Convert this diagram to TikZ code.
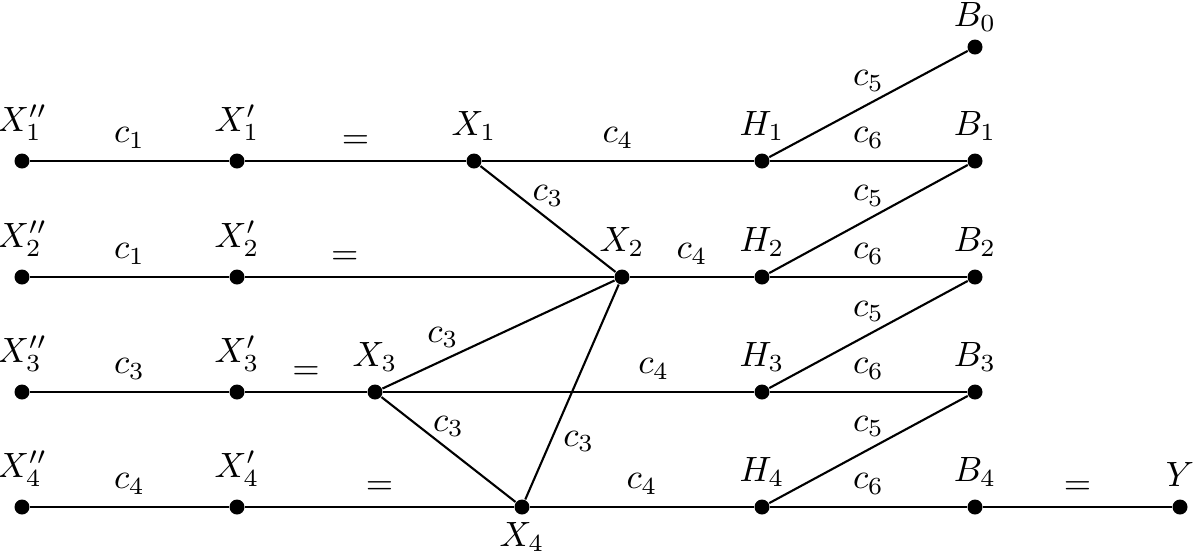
\documentclass[tikz,border=0pt]{standalone}
\usetikzlibrary{positioning}
\tikzstyle{vertex}=[circle, fill=black, inner sep=0pt, minimum size=0.15cm]
\tikzstyle{line}=[-, line width=0.6pt]

\begin{document}
\begin{tikzpicture}[on grid, label distance=0pt]
    \useasboundingbox (0,0) rectangle (12,-5.56);

    % first row
    \node (X1pp) [vertex, label=above:$X''_1$] at (0.22,-1.61) {};
    \node (X1p) [vertex, label=above:$X'_1$, right=2.15cm of X1pp] {};
    \node (X1) [vertex, label=above:$X_1$, right=2.37cm of X1p] {};
    \node (H1) [vertex, label=above:$H_1$, right=2.88cm of X1] {};
    \node (B1) [vertex, label=above:$B_1$, right=2.13cm of H1] {};
    \node (B0) [vertex, label={[label distance=-1.5pt]above:$B_0$}, above=1.14cm of B1] {};

    % second row
    \node (X2pp) [vertex, label=above:$X''_2$, below=1.16cm of X1pp] {};
    \node (X2p) [vertex, label=above:$X'_2$, below=1.16cm of X1p] {};
    \node (X2) [vertex, label=above:$X_2$, right=3.85cm of X2p] {};
    \node (H2) [vertex, label=above:$H_2$, below=1.16cm of H1] {};
    \node (B2) [vertex, label=above:$B_2$, below=1.16cm of B1] {};

    % third row
    \node (X3pp) [vertex, label=above:$X''_3$, below=1.15cm of X2pp] {};
    \node (X3p) [vertex, label=above:$X'_3$, below=1.15cm of X2p] {};
    \node (X3) [vertex, label=above:$X_3$, right=1.38cm of X3p] {};
    \node (H3) [vertex, label=above:$H_3$, below=1.15cm of H2] {};
    \node (B3) [vertex, label=above:$B_3$, below=1.15cm of B2] {};

    % fourth row
    \node (X4pp) [vertex, label=above:$X''_4$, below=1.15cm of X3pp] {};
    \node (X4p) [vertex, label=above:$X'_4$, below=1.15cm of X3p] {};
    \node (X4) [vertex, label={[label distance=-1.5pt]below:$X_4$}, right=2.85cm of X4p] {};
    \node (H4) [vertex, label=above:$H_4$, below=1.15cm of H3] {};
    \node (B4) [vertex, label=above:$B_4$, below=1.15cm of B3] {};
    \node (Y) [vertex, label=above:$Y$, right=2.05cm of B4] {};

    \draw[line] (X1pp) -- node[above] {$c_1$} (X1p);
    \draw[line] (X1p) -- node[above] {$=$} (X1);
    \draw[line] (X1) -- node[above] {$c_4$} (H1);
    \draw[line] (H1) -- node[above] {$c_6$} (B1);
    \draw[line] (H1) -- node[above] {$c_5$} (B0);
    \draw[line] (X1) -- node[above] {$c_3$} (X2);

    \draw[line] (X2pp) -- node[above] {$c_1$} (X2p);
    \draw[line] (X2p) -- node[above, pos=0.27] {$=$} (X2);
    \draw[line] (X2) -- node[above] {$c_4$} (H2);
    \draw[line] (H2) -- node[above] {$c_6$} (B2);
    \draw[line] (H2) -- node[above] {$c_5$} (B1);

    \draw[line] (X3pp) -- node[above] {$c_3$} (X3p);
    \draw[line] (X3p) -- node[above] {$=$} (X3);
    \draw[line] (X3) -- node[above, pos=0.73] {$c_4$} (H3);
    \draw[line] (H3) -- node[above] {$c_6$} (B3);
    \draw[line] (H3) -- node[above] {$c_5$} (B2);
    \draw[line] (X3) -- node[above, pos=0.26] {$c_3$} (X2);
    \draw[line] (X3) -- node[above] {$c_3$} (X4);

    \draw[line] (X4pp) -- node[above] {$c_4$} (X4p);
    \draw[line] (X4p) -- node[above] {$=$} (X4);
    \draw[line] (X4) -- node[above] {$c_4$} (H4);
    \draw[line] (H4) -- node[above] {$c_6$} (B4);
    \draw[line] (H4) -- node[above] {$c_5$} (B3);
    \draw[line] (B4) -- node[above] {$=$} (Y);
    \draw[line] (X4) -- node[right, pos=0.27] {$c_3$} (X2);
\end{tikzpicture}
\end{document}
